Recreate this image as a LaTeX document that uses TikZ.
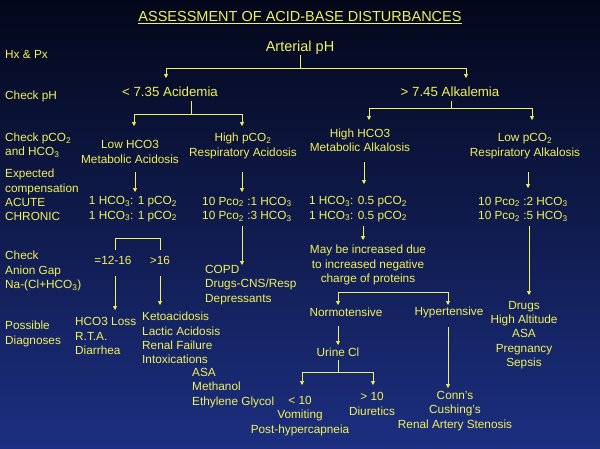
\documentclass[tikz,border=0pt]{standalone}
\usepackage{fontspec}
\setmainfont{Liberation Sans}
\usetikzlibrary{arrows.meta}
\definecolor{ylw}{HTML}{F2F25A}
\definecolor{bgtop}{HTML}{03071A}
\definecolor{bgbot}{HTML}{1C2F80}
\newcommand{\sbs}[1]{\textsubscript{#1}}
\tikzset{
 t/.style={text=ylw,font=\fontsize{11.8}{14.2}\selectfont,inner sep=0pt,align=center},
 tl/.style={t,anchor=west,align=left},
 ln/.style={draw=ylw,line width=0.7pt},
 ar/.style={ln,-{Triangle[width=4pt,length=4pt]}}
}
\begin{document}
\begin{tikzpicture}[x=1pt,y=-1pt]
\shade[top color=bgtop,bottom color=bgbot] (0,0) rectangle (600,448);
\useasboundingbox (0,0) rectangle (600,448);
\node[t,font=\fontsize{14.5}{16}\selectfont] (title) at (300,18) {\underline{ASSESSMENT OF ACID-BASE DISTURBANCES}};
% left labels
\node[tl] (hx) at (5,54) {Hx \& Px};
\node[tl] (cph) at (5,96) {Check pH};
\node[tl] (cpco) at (5,145) {Check pCO\sbs{2}\\and HCO\sbs{3}};
\node[tl] (exp) at (5,195) {Expected\\compensation\\ACUTE\\CHRONIC};
\node[tl] (cag) at (5,271) {Check\\Anion Gap\\Na-(Cl+HCO\sbs{3})};
\node[tl] (pd) at (5,334) {Possible\\Diagnoses};
% main
\node[t,font=\fontsize{14.5}{16}\selectfont] (aph) at (300,48) {Arterial pH};
\node[t,font=\fontsize{13.3}{15}\selectfont] (acid) at (170,92) {< 7.35 Acidemia};
\node[t,font=\fontsize{13.3}{15}\selectfont] (alk) at (450,92) {> 7.45 Alkalemia};
\node[t] (lowh) at (130,152) {Low HCO3\\Metabolic Acidosis};
\node[t] (highp) at (243,146) {High pCO\sbs{2}\\Respiratory Acidosis};
\node[t] (highh) at (360,140) {High HCO3\\Metabolic Alkalosis};
\node[t] (lowp) at (525,146) {Low pCO\sbs{2}\\Respiratory Alkalosis};
\node[t] (c1) at (133,209) {1 HCO\sbs{3}: 1 pCO\sbs{2}\\1 HCO\sbs{3}: 1 pCO\sbs{2}};
\node[t] (c2) at (247,209) {10 Pco\sbs{2} :1 HCO\sbs{3}\\10 Pco\sbs{2} :3 HCO\sbs{3}};
\node[t] (c3) at (358,209) {1 HCO\sbs{3}: 0.5 pCO\sbs{2}\\1 HCO\sbs{3}: 0.5 pCO\sbs{2}};
\node[t] (c4) at (523,209) {10 Pco\sbs{2} :2 HCO\sbs{3}\\10 Pco\sbs{2} :5 HCO\sbs{3}};
\node[t] (ag1) at (113,260) {=12-16};
\node[t] (ag2) at (160,260) {>16};
\node[t] (copd) at (205,285) [anchor=west,align=left] {COPD\\Drugs-CNS/Resp\\Depressants};
\node[t] (may) at (368,265) {May be increased due\\to increased negative\\charge of proteins};
\node[t] (hco3l) at (75,336) [anchor=west,align=left] {HCO3 Loss\\R.T.A.\\Diarrhea};
\node[t] (keto) at (142,338) [anchor=west,align=left] {Ketoacidosis\\Lactic Acidosis\\Renal Failure\\Intoxications};
\node[t] (asa) at (192,388) [anchor=west,align=left] {ASA\\Methanol\\Ethylene Glycol};
\node[t] (normo) at (346,312) {Normotensive};
\node[t] (hyper) at (449,312) {Hypertensive};
\node[t] (urine) at (338,352) {Urine Cl};
\node[t] (lt) at (300,416) {< 10\\Vomiting\\Post-hypercapneia};
\node[t] (gt) at (372,404) {> 10\\Diuretics};
\node[t] (conn) at (455,411) {Conn's\\Cushing's\\Renal Artery Stenosis};
\node[t] (drugs) at (524,335) {Drugs\\High Altitude\\ASA\\Pregnancy\\Sepsis};
% connectors
\draw[ln] (aph.south) -- (300,68);
\draw[ar] (300,68) -| (166,78);
\draw[ar] (300,68) -| (466,78);
\draw[ln] (191,101) -- (191,114);
\draw[ar] (191,114) -| (134,126);
\draw[ar] (191,114) -| (242,126);
\draw[ln] (451,101) -- (451,108);
\draw[ar] (451,108) -| (369,120);
\draw[ar] (451,108) -| (532,120);
\draw[ar] (135,172) -- (135,192);
\draw[ar] (242,172) -- (242,192);
\draw[ar] (364,162) -- (364,184);
\draw[ar] (528,172) -- (528,188);
\draw[ln] (115,250) |- (160,238) -- (160,250);
\draw[ar] (115,276) -- (115,310);
\draw[ar] (160,276) -- (160,305);
\draw[ar] (242,226) -- (242,265);
\draw[ar] (363,226) -- (363,240);
\draw[ar] (338,292) -- (338,305) ;
\draw[ln] (338,292) -- (448,292);
\draw[ar] (448,292) -- (448,305);
\draw[ar] (338,326) -- (338,345);
\draw[ln] (338,360) -- (338,372);
\draw[ar] (338,372) -| (302,385);
\draw[ar] (338,372) -| (373,385);
\draw[ar] (448,327) -- (448,388);
\draw[ar] (529,226) -- (529,295);
\end{tikzpicture}
\end{document}
